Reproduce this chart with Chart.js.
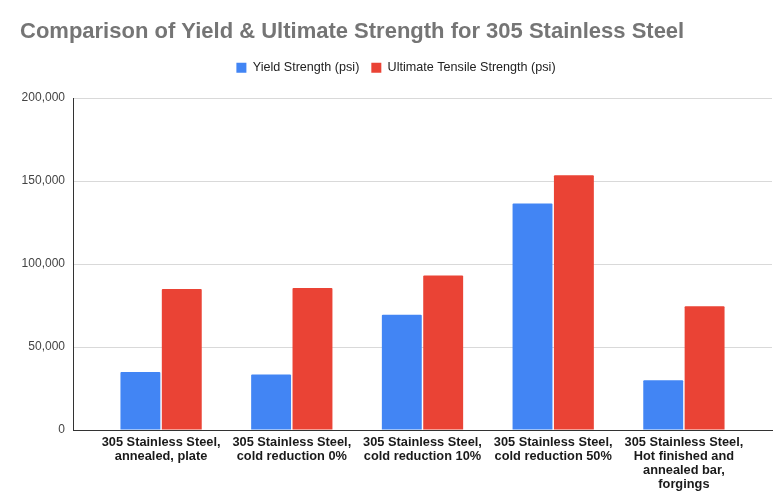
<!DOCTYPE html>
<html>
<head>
<meta charset="utf-8">
<script src="https://cdn.jsdelivr.net/npm/chart.js@4"></script>
<style>
  html, body { margin: 0; padding: 0; background: #fff; }
  #wrap { width: 780px; height: 495px; position: relative; }
</style>
</head>
<body>
<div id="wrap"><canvas id="c"></canvas></div>
<script>
const categories = [
  ["305 Stainless Steel,", "annealed, plate"],
  ["305 Stainless Steel,", "cold reduction 0%"],
  ["305 Stainless Steel,", "cold reduction 10%"],
  ["305 Stainless Steel,", "cold reduction 50%"],
  ["305 Stainless Steel,", "Hot finished and", "annealed bar,", "forgings"]
];
const yieldStrength = [35000, 33500, 69500, 136500, 30000];
const ultimateStrength = [85000, 85500, 93000, 153500, 74500];
const yTicks = [0, 50000, 100000, 150000, 200000];

const FONT = "'Liberation Sans', Arial, sans-serif";

const legendMargin = {
  id: 'legendMargin',
  beforeInit(chart) {
    const origFit = chart.legend.fit;
    chart.legend.fit = function () {
      origFit.bind(chart.legend)();
      this.height += 14;
    };
  }
};

new Chart(document.getElementById('c'), {
  type: 'bar',
  data: {
    labels: categories,
    datasets: [
      { label: 'Yield Strength (psi)', data: yieldStrength, backgroundColor: '#4285F4',
        categoryPercentage: 0.633, barPercentage: 0.965, borderRadius: 1 },
      { label: 'Ultimate Tensile Strength (psi)', data: ultimateStrength, backgroundColor: '#EA4335',
        categoryPercentage: 0.633, barPercentage: 0.965, borderRadius: 1 }
    ]
  },
  plugins: [legendMargin],
  options: {
    responsive: true,
    maintainAspectRatio: false,
    animation: false,
    layout: { padding: { left: 20, right: 8, top: 0, bottom: 0 } },
    plugins: {
      title: {
        display: true,
        text: 'Comparison of Yield & Ultimate Strength for 305 Stainless Steel',
        align: 'start',
        color: '#757575',
        font: { family: FONT, size: 22, weight: 'bold' },
        padding: { top: 19, bottom: 4 }
      },
      legend: {
        position: 'top',
        labels: {
          boxWidth: 10, boxHeight: 10, padding: 12,
          color: '#222',
          font: { family: FONT, size: 12.6 }
        }
      },
      tooltip: { enabled: false }
    },
    scales: {
      x: {
        grid: { display: false, drawTicks: false },
        border: { display: true, color: '#333', width: 1 },
        afterBuildTicks: (scale) => {
          scale._startValue -= 0.174;
          scale._valueRange += 0.348;
        },
        afterFit: (scale) => { scale.height = 65; },
        ticks: {
          color: '#1a1a1a',
          padding: 6,
          maxRotation: 0,
          autoSkip: false,
          font: { family: FONT, size: 12.8, weight: 'bold', lineHeight: 1.09 }
        }
      },
      y: {
        min: 0,
        max: 200000,
        afterBuildTicks: (scale) => { scale.ticks = yTicks.map(v => ({ value: v })); },
        afterFit: (scale) => { scale.width = 53; },
        grid: { color: '#d9d9d9', drawTicks: false },
        border: { display: true, color: '#333', width: 1 },
        ticks: {
          color: '#444',
          padding: 8,
          font: { family: FONT, size: 12 },
          callback: (v) => v.toLocaleString('en-US')
        }
      }
    }
  }
});
</script>
</body>
</html>
